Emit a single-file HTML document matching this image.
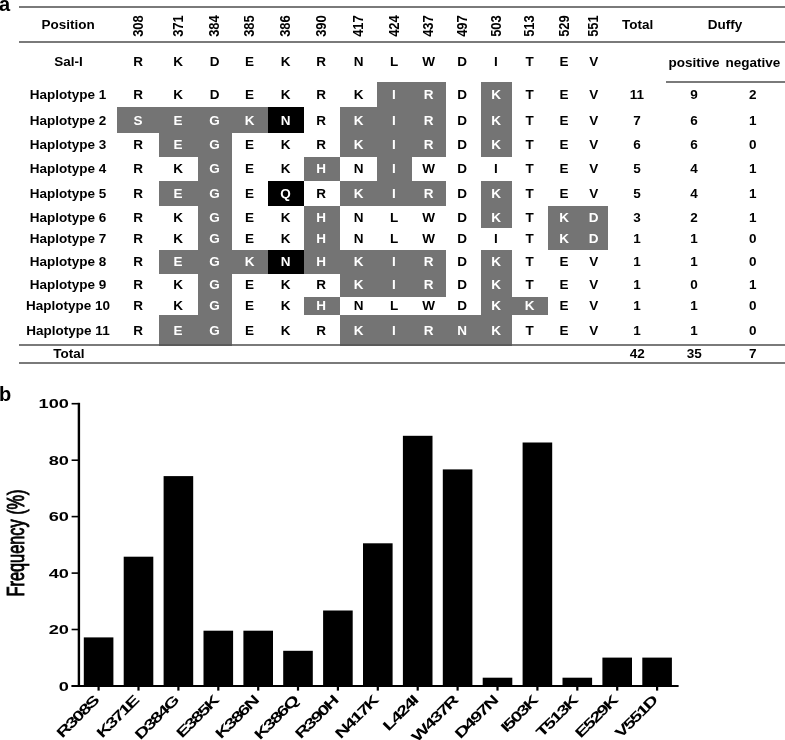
<!DOCTYPE html>
<html><head><meta charset="utf-8"><title>Figure</title>
<style>
html,body{margin:0;padding:0;background:#fff;}
body{width:785px;height:740px;position:relative;overflow:hidden;font-family:"Liberation Sans",Arial,sans-serif;font-weight:bold;color:#000;}
.t{position:absolute;font-size:13.5px;line-height:16px;height:16px;white-space:nowrap;text-align:center;}
.w{color:#fff;}
.g{position:absolute;background:#747474;}
.k{position:absolute;background:#000;}
.ln{position:absolute;background:#7a7a7a;height:2px;}
.r{position:absolute;font-size:14px;line-height:14px;height:14px;width:30px;text-align:center;transform:rotate(-90deg) scaleX(0.93);transform-origin:50% 50%;}
.pl{position:absolute;left:0;font-size:20px;line-height:22px;}
svg{position:absolute;left:0;top:0;}
svg text{font-family:"Liberation Sans",Arial,sans-serif;}
</style></head><body>
<div class="pl" style="top:-7px;left:-1px">a</div>
<div class="ln" style="left:19.3px;top:6px;width:766px"></div>
<div class="ln" style="left:19.3px;top:41px;width:766px"></div>
<div class="ln" style="left:666px;top:81px;width:119px"></div>
<div class="ln" style="left:19.3px;top:343.5px;width:766px"></div>
<div class="ln" style="left:19.3px;top:361.5px;width:766px"></div>
<div class="t " style="left:18.0px;top:17.3px;width:100px">Position</div>
<div class="r" style="left:122.5px;top:18.7px">308</div>
<div class="r" style="left:162.5px;top:18.7px">371</div>
<div class="r" style="left:199.0px;top:18.7px">384</div>
<div class="r" style="left:234.0px;top:18.7px">385</div>
<div class="r" style="left:270.0px;top:18.7px">386</div>
<div class="r" style="left:305.5px;top:18.7px">390</div>
<div class="r" style="left:343.0px;top:18.7px">417</div>
<div class="r" style="left:378.5px;top:18.7px">424</div>
<div class="r" style="left:413.0px;top:18.7px">437</div>
<div class="r" style="left:446.5px;top:18.7px">497</div>
<div class="r" style="left:480.5px;top:18.7px">503</div>
<div class="r" style="left:514.1px;top:18.7px">513</div>
<div class="r" style="left:548.5px;top:18.7px">529</div>
<div class="r" style="left:578.2px;top:18.7px">551</div>
<div class="t " style="left:607.7px;top:17.3px;width:60px">Total</div>
<div class="t " style="left:695.0px;top:17.3px;width:60px">Duffy</div>
<div class="t " style="left:18.5px;top:53.9px;width:100px">Sal-I</div>
<div class="t " style="left:118.0px;top:53.9px;width:40px">R</div>
<div class="t " style="left:158.0px;top:53.9px;width:40px">K</div>
<div class="t " style="left:194.5px;top:53.9px;width:40px">D</div>
<div class="t " style="left:229.5px;top:53.9px;width:40px">E</div>
<div class="t " style="left:265.5px;top:53.9px;width:40px">K</div>
<div class="t " style="left:301.0px;top:53.9px;width:40px">R</div>
<div class="t " style="left:338.5px;top:53.9px;width:40px">N</div>
<div class="t " style="left:374.0px;top:53.9px;width:40px">L</div>
<div class="t " style="left:408.5px;top:53.9px;width:40px">W</div>
<div class="t " style="left:442.0px;top:53.9px;width:40px">D</div>
<div class="t " style="left:476.0px;top:53.9px;width:40px">I</div>
<div class="t " style="left:509.6px;top:53.9px;width:40px">T</div>
<div class="t " style="left:544.0px;top:53.9px;width:40px">E</div>
<div class="t " style="left:573.7px;top:53.9px;width:40px">V</div>
<div class="t " style="left:659.0px;top:54.5px;width:70px">positive</div>
<div class="t " style="left:717.8px;top:54.5px;width:70px">negative</div>
<div class="g" style="left:377.0px;top:82.0px;width:69.0px;height:25.4px"></div>
<div class="g" style="left:481.0px;top:82.0px;width:30.5px;height:25.4px"></div>
<div class="g" style="left:117.0px;top:107.4px;width:151.0px;height:25.6px"></div>
<div class="k" style="left:268.0px;top:107.4px;width:35.5px;height:25.6px"></div>
<div class="g" style="left:340.0px;top:107.4px;width:106.0px;height:25.6px"></div>
<div class="g" style="left:481.0px;top:107.4px;width:30.5px;height:25.6px"></div>
<div class="g" style="left:159.0px;top:133.0px;width:72.5px;height:24.0px"></div>
<div class="g" style="left:340.0px;top:133.0px;width:106.0px;height:24.0px"></div>
<div class="g" style="left:481.0px;top:133.0px;width:30.5px;height:24.0px"></div>
<div class="g" style="left:197.5px;top:157.0px;width:34.0px;height:24.0px"></div>
<div class="g" style="left:303.5px;top:157.0px;width:36.5px;height:24.0px"></div>
<div class="g" style="left:377.0px;top:157.0px;width:34.5px;height:24.0px"></div>
<div class="g" style="left:159.0px;top:181.0px;width:72.5px;height:25.0px"></div>
<div class="k" style="left:268.0px;top:181.0px;width:35.5px;height:25.0px"></div>
<div class="g" style="left:340.0px;top:181.0px;width:106.0px;height:25.0px"></div>
<div class="g" style="left:481.0px;top:181.0px;width:30.5px;height:25.0px"></div>
<div class="g" style="left:197.5px;top:206.0px;width:34.0px;height:21.5px"></div>
<div class="g" style="left:303.5px;top:206.0px;width:36.5px;height:21.5px"></div>
<div class="g" style="left:481.0px;top:206.0px;width:30.5px;height:21.5px"></div>
<div class="g" style="left:548.0px;top:206.0px;width:60.0px;height:21.5px"></div>
<div class="g" style="left:197.5px;top:227.5px;width:34.0px;height:22.0px"></div>
<div class="g" style="left:303.5px;top:227.5px;width:36.5px;height:22.0px"></div>
<div class="g" style="left:548.0px;top:227.5px;width:60.0px;height:22.0px"></div>
<div class="g" style="left:159.0px;top:249.5px;width:109.0px;height:24.2px"></div>
<div class="k" style="left:268.0px;top:249.5px;width:35.5px;height:24.2px"></div>
<div class="g" style="left:303.5px;top:249.5px;width:142.5px;height:24.2px"></div>
<div class="g" style="left:481.0px;top:249.5px;width:30.5px;height:24.2px"></div>
<div class="g" style="left:197.5px;top:273.7px;width:34.0px;height:23.3px"></div>
<div class="g" style="left:340.0px;top:273.7px;width:106.0px;height:23.3px"></div>
<div class="g" style="left:481.0px;top:273.7px;width:30.5px;height:23.3px"></div>
<div class="g" style="left:197.5px;top:297.0px;width:34.0px;height:17.5px"></div>
<div class="g" style="left:303.5px;top:297.0px;width:36.5px;height:17.5px"></div>
<div class="g" style="left:481.0px;top:297.0px;width:67.0px;height:17.5px"></div>
<div class="g" style="left:159.0px;top:314.5px;width:72.5px;height:30.5px"></div>
<div class="g" style="left:340.0px;top:314.5px;width:171.5px;height:30.5px"></div>
<div class="ln" style="left:159px;top:343.7px;width:72.5px;background:#5a5a5a"></div>
<div class="ln" style="left:340px;top:343.7px;width:171.5px;background:#5a5a5a"></div>
<div class="t " style="left:13.0px;top:86.6px;width:110px">Haplotype 1</div>
<div class="t " style="left:118.0px;top:86.6px;width:40px">R</div>
<div class="t " style="left:158.0px;top:86.6px;width:40px">K</div>
<div class="t " style="left:194.5px;top:86.6px;width:40px">D</div>
<div class="t " style="left:229.5px;top:86.6px;width:40px">E</div>
<div class="t " style="left:265.5px;top:86.6px;width:40px">K</div>
<div class="t " style="left:301.0px;top:86.6px;width:40px">R</div>
<div class="t " style="left:338.5px;top:86.6px;width:40px">K</div>
<div class="t w" style="left:374.0px;top:86.6px;width:40px">I</div>
<div class="t w" style="left:408.5px;top:86.6px;width:40px">R</div>
<div class="t " style="left:442.0px;top:86.6px;width:40px">D</div>
<div class="t w" style="left:476.0px;top:86.6px;width:40px">K</div>
<div class="t " style="left:509.6px;top:86.6px;width:40px">T</div>
<div class="t " style="left:544.0px;top:86.6px;width:40px">E</div>
<div class="t " style="left:573.7px;top:86.6px;width:40px">V</div>
<div class="t " style="left:617.0px;top:86.6px;width:40px">11</div>
<div class="t " style="left:674.0px;top:86.6px;width:40px">9</div>
<div class="t " style="left:732.8px;top:86.6px;width:40px">2</div>
<div class="t " style="left:13.0px;top:113.4px;width:110px">Haplotype 2</div>
<div class="t w" style="left:118.0px;top:113.4px;width:40px">S</div>
<div class="t w" style="left:158.0px;top:113.4px;width:40px">E</div>
<div class="t w" style="left:194.5px;top:113.4px;width:40px">G</div>
<div class="t w" style="left:229.5px;top:113.4px;width:40px">K</div>
<div class="t w" style="left:265.5px;top:113.4px;width:40px">N</div>
<div class="t " style="left:301.0px;top:113.4px;width:40px">R</div>
<div class="t w" style="left:338.5px;top:113.4px;width:40px">K</div>
<div class="t w" style="left:374.0px;top:113.4px;width:40px">I</div>
<div class="t w" style="left:408.5px;top:113.4px;width:40px">R</div>
<div class="t " style="left:442.0px;top:113.4px;width:40px">D</div>
<div class="t w" style="left:476.0px;top:113.4px;width:40px">K</div>
<div class="t " style="left:509.6px;top:113.4px;width:40px">T</div>
<div class="t " style="left:544.0px;top:113.4px;width:40px">E</div>
<div class="t " style="left:573.7px;top:113.4px;width:40px">V</div>
<div class="t " style="left:617.0px;top:113.4px;width:40px">7</div>
<div class="t " style="left:674.0px;top:113.4px;width:40px">6</div>
<div class="t " style="left:732.8px;top:113.4px;width:40px">1</div>
<div class="t " style="left:13.0px;top:137.4px;width:110px">Haplotype 3</div>
<div class="t " style="left:118.0px;top:137.4px;width:40px">R</div>
<div class="t w" style="left:158.0px;top:137.4px;width:40px">E</div>
<div class="t w" style="left:194.5px;top:137.4px;width:40px">G</div>
<div class="t " style="left:229.5px;top:137.4px;width:40px">E</div>
<div class="t " style="left:265.5px;top:137.4px;width:40px">K</div>
<div class="t " style="left:301.0px;top:137.4px;width:40px">R</div>
<div class="t w" style="left:338.5px;top:137.4px;width:40px">K</div>
<div class="t w" style="left:374.0px;top:137.4px;width:40px">I</div>
<div class="t w" style="left:408.5px;top:137.4px;width:40px">R</div>
<div class="t " style="left:442.0px;top:137.4px;width:40px">D</div>
<div class="t w" style="left:476.0px;top:137.4px;width:40px">K</div>
<div class="t " style="left:509.6px;top:137.4px;width:40px">T</div>
<div class="t " style="left:544.0px;top:137.4px;width:40px">E</div>
<div class="t " style="left:573.7px;top:137.4px;width:40px">V</div>
<div class="t " style="left:617.0px;top:137.4px;width:40px">6</div>
<div class="t " style="left:674.0px;top:137.4px;width:40px">6</div>
<div class="t " style="left:732.8px;top:137.4px;width:40px">0</div>
<div class="t " style="left:13.0px;top:161.0px;width:110px">Haplotype 4</div>
<div class="t " style="left:118.0px;top:161.0px;width:40px">R</div>
<div class="t " style="left:158.0px;top:161.0px;width:40px">K</div>
<div class="t w" style="left:194.5px;top:161.0px;width:40px">G</div>
<div class="t " style="left:229.5px;top:161.0px;width:40px">E</div>
<div class="t " style="left:265.5px;top:161.0px;width:40px">K</div>
<div class="t w" style="left:301.0px;top:161.0px;width:40px">H</div>
<div class="t " style="left:338.5px;top:161.0px;width:40px">N</div>
<div class="t w" style="left:374.0px;top:161.0px;width:40px">I</div>
<div class="t " style="left:408.5px;top:161.0px;width:40px">W</div>
<div class="t " style="left:442.0px;top:161.0px;width:40px">D</div>
<div class="t " style="left:476.0px;top:161.0px;width:40px">I</div>
<div class="t " style="left:509.6px;top:161.0px;width:40px">T</div>
<div class="t " style="left:544.0px;top:161.0px;width:40px">E</div>
<div class="t " style="left:573.7px;top:161.0px;width:40px">V</div>
<div class="t " style="left:617.0px;top:161.0px;width:40px">5</div>
<div class="t " style="left:674.0px;top:161.0px;width:40px">4</div>
<div class="t " style="left:732.8px;top:161.0px;width:40px">1</div>
<div class="t " style="left:13.0px;top:185.5px;width:110px">Haplotype 5</div>
<div class="t " style="left:118.0px;top:185.5px;width:40px">R</div>
<div class="t w" style="left:158.0px;top:185.5px;width:40px">E</div>
<div class="t w" style="left:194.5px;top:185.5px;width:40px">G</div>
<div class="t " style="left:229.5px;top:185.5px;width:40px">E</div>
<div class="t w" style="left:265.5px;top:185.5px;width:40px">Q</div>
<div class="t " style="left:301.0px;top:185.5px;width:40px">R</div>
<div class="t w" style="left:338.5px;top:185.5px;width:40px">K</div>
<div class="t w" style="left:374.0px;top:185.5px;width:40px">I</div>
<div class="t w" style="left:408.5px;top:185.5px;width:40px">R</div>
<div class="t " style="left:442.0px;top:185.5px;width:40px">D</div>
<div class="t w" style="left:476.0px;top:185.5px;width:40px">K</div>
<div class="t " style="left:509.6px;top:185.5px;width:40px">T</div>
<div class="t " style="left:544.0px;top:185.5px;width:40px">E</div>
<div class="t " style="left:573.7px;top:185.5px;width:40px">V</div>
<div class="t " style="left:617.0px;top:185.5px;width:40px">5</div>
<div class="t " style="left:674.0px;top:185.5px;width:40px">4</div>
<div class="t " style="left:732.8px;top:185.5px;width:40px">1</div>
<div class="t " style="left:13.0px;top:209.9px;width:110px">Haplotype 6</div>
<div class="t " style="left:118.0px;top:209.9px;width:40px">R</div>
<div class="t " style="left:158.0px;top:209.9px;width:40px">K</div>
<div class="t w" style="left:194.5px;top:209.9px;width:40px">G</div>
<div class="t " style="left:229.5px;top:209.9px;width:40px">E</div>
<div class="t " style="left:265.5px;top:209.9px;width:40px">K</div>
<div class="t w" style="left:301.0px;top:209.9px;width:40px">H</div>
<div class="t " style="left:338.5px;top:209.9px;width:40px">N</div>
<div class="t " style="left:374.0px;top:209.9px;width:40px">L</div>
<div class="t " style="left:408.5px;top:209.9px;width:40px">W</div>
<div class="t " style="left:442.0px;top:209.9px;width:40px">D</div>
<div class="t w" style="left:476.0px;top:209.9px;width:40px">K</div>
<div class="t " style="left:509.6px;top:209.9px;width:40px">T</div>
<div class="t w" style="left:544.0px;top:209.9px;width:40px">K</div>
<div class="t w" style="left:573.7px;top:209.9px;width:40px">D</div>
<div class="t " style="left:617.0px;top:209.9px;width:40px">3</div>
<div class="t " style="left:674.0px;top:209.9px;width:40px">2</div>
<div class="t " style="left:732.8px;top:209.9px;width:40px">1</div>
<div class="t " style="left:13.0px;top:230.8px;width:110px">Haplotype 7</div>
<div class="t " style="left:118.0px;top:230.8px;width:40px">R</div>
<div class="t " style="left:158.0px;top:230.8px;width:40px">K</div>
<div class="t w" style="left:194.5px;top:230.8px;width:40px">G</div>
<div class="t " style="left:229.5px;top:230.8px;width:40px">E</div>
<div class="t " style="left:265.5px;top:230.8px;width:40px">K</div>
<div class="t w" style="left:301.0px;top:230.8px;width:40px">H</div>
<div class="t " style="left:338.5px;top:230.8px;width:40px">N</div>
<div class="t " style="left:374.0px;top:230.8px;width:40px">L</div>
<div class="t " style="left:408.5px;top:230.8px;width:40px">W</div>
<div class="t " style="left:442.0px;top:230.8px;width:40px">D</div>
<div class="t " style="left:476.0px;top:230.8px;width:40px">I</div>
<div class="t " style="left:509.6px;top:230.8px;width:40px">T</div>
<div class="t w" style="left:544.0px;top:230.8px;width:40px">K</div>
<div class="t w" style="left:573.7px;top:230.8px;width:40px">D</div>
<div class="t " style="left:617.0px;top:230.8px;width:40px">1</div>
<div class="t " style="left:674.0px;top:230.8px;width:40px">1</div>
<div class="t " style="left:732.8px;top:230.8px;width:40px">0</div>
<div class="t " style="left:13.0px;top:254.0px;width:110px">Haplotype 8</div>
<div class="t " style="left:118.0px;top:254.0px;width:40px">R</div>
<div class="t w" style="left:158.0px;top:254.0px;width:40px">E</div>
<div class="t w" style="left:194.5px;top:254.0px;width:40px">G</div>
<div class="t w" style="left:229.5px;top:254.0px;width:40px">K</div>
<div class="t w" style="left:265.5px;top:254.0px;width:40px">N</div>
<div class="t w" style="left:301.0px;top:254.0px;width:40px">H</div>
<div class="t w" style="left:338.5px;top:254.0px;width:40px">K</div>
<div class="t w" style="left:374.0px;top:254.0px;width:40px">I</div>
<div class="t w" style="left:408.5px;top:254.0px;width:40px">R</div>
<div class="t " style="left:442.0px;top:254.0px;width:40px">D</div>
<div class="t w" style="left:476.0px;top:254.0px;width:40px">K</div>
<div class="t " style="left:509.6px;top:254.0px;width:40px">T</div>
<div class="t " style="left:544.0px;top:254.0px;width:40px">E</div>
<div class="t " style="left:573.7px;top:254.0px;width:40px">V</div>
<div class="t " style="left:617.0px;top:254.0px;width:40px">1</div>
<div class="t " style="left:674.0px;top:254.0px;width:40px">1</div>
<div class="t " style="left:732.8px;top:254.0px;width:40px">0</div>
<div class="t " style="left:13.0px;top:277.0px;width:110px">Haplotype 9</div>
<div class="t " style="left:118.0px;top:277.0px;width:40px">R</div>
<div class="t " style="left:158.0px;top:277.0px;width:40px">K</div>
<div class="t w" style="left:194.5px;top:277.0px;width:40px">G</div>
<div class="t " style="left:229.5px;top:277.0px;width:40px">E</div>
<div class="t " style="left:265.5px;top:277.0px;width:40px">K</div>
<div class="t " style="left:301.0px;top:277.0px;width:40px">R</div>
<div class="t w" style="left:338.5px;top:277.0px;width:40px">K</div>
<div class="t w" style="left:374.0px;top:277.0px;width:40px">I</div>
<div class="t w" style="left:408.5px;top:277.0px;width:40px">R</div>
<div class="t " style="left:442.0px;top:277.0px;width:40px">D</div>
<div class="t w" style="left:476.0px;top:277.0px;width:40px">K</div>
<div class="t " style="left:509.6px;top:277.0px;width:40px">T</div>
<div class="t " style="left:544.0px;top:277.0px;width:40px">E</div>
<div class="t " style="left:573.7px;top:277.0px;width:40px">V</div>
<div class="t " style="left:617.0px;top:277.0px;width:40px">1</div>
<div class="t " style="left:674.0px;top:277.0px;width:40px">0</div>
<div class="t " style="left:732.8px;top:277.0px;width:40px">1</div>
<div class="t " style="left:13.0px;top:298.2px;width:110px">Haplotype 10</div>
<div class="t " style="left:118.0px;top:298.2px;width:40px">R</div>
<div class="t " style="left:158.0px;top:298.2px;width:40px">K</div>
<div class="t w" style="left:194.5px;top:298.2px;width:40px">G</div>
<div class="t " style="left:229.5px;top:298.2px;width:40px">E</div>
<div class="t " style="left:265.5px;top:298.2px;width:40px">K</div>
<div class="t w" style="left:301.0px;top:298.2px;width:40px">H</div>
<div class="t " style="left:338.5px;top:298.2px;width:40px">N</div>
<div class="t " style="left:374.0px;top:298.2px;width:40px">L</div>
<div class="t " style="left:408.5px;top:298.2px;width:40px">W</div>
<div class="t " style="left:442.0px;top:298.2px;width:40px">D</div>
<div class="t w" style="left:476.0px;top:298.2px;width:40px">K</div>
<div class="t w" style="left:509.6px;top:298.2px;width:40px">K</div>
<div class="t " style="left:544.0px;top:298.2px;width:40px">E</div>
<div class="t " style="left:573.7px;top:298.2px;width:40px">V</div>
<div class="t " style="left:617.0px;top:298.2px;width:40px">1</div>
<div class="t " style="left:674.0px;top:298.2px;width:40px">1</div>
<div class="t " style="left:732.8px;top:298.2px;width:40px">0</div>
<div class="t " style="left:13.0px;top:322.7px;width:110px">Haplotype 11</div>
<div class="t " style="left:118.0px;top:322.7px;width:40px">R</div>
<div class="t w" style="left:158.0px;top:322.7px;width:40px">E</div>
<div class="t w" style="left:194.5px;top:322.7px;width:40px">G</div>
<div class="t " style="left:229.5px;top:322.7px;width:40px">E</div>
<div class="t " style="left:265.5px;top:322.7px;width:40px">K</div>
<div class="t " style="left:301.0px;top:322.7px;width:40px">R</div>
<div class="t w" style="left:338.5px;top:322.7px;width:40px">K</div>
<div class="t w" style="left:374.0px;top:322.7px;width:40px">I</div>
<div class="t w" style="left:408.5px;top:322.7px;width:40px">R</div>
<div class="t w" style="left:442.0px;top:322.7px;width:40px">N</div>
<div class="t w" style="left:476.0px;top:322.7px;width:40px">K</div>
<div class="t " style="left:509.6px;top:322.7px;width:40px">T</div>
<div class="t " style="left:544.0px;top:322.7px;width:40px">E</div>
<div class="t " style="left:573.7px;top:322.7px;width:40px">V</div>
<div class="t " style="left:617.0px;top:322.7px;width:40px">1</div>
<div class="t " style="left:674.0px;top:322.7px;width:40px">1</div>
<div class="t " style="left:732.8px;top:322.7px;width:40px">0</div>
<div class="t " style="left:18.8px;top:345.8px;width:100px">Total</div>
<div class="t " style="left:617.2px;top:345.8px;width:40px">42</div>
<div class="t " style="left:674.3px;top:345.8px;width:40px">35</div>
<div class="t " style="left:732.7px;top:345.8px;width:40px">7</div>
<div class="pl" style="top:383px;left:-1px">b</div>
<svg width="785" height="740" viewBox="0 0 785 740">
<rect x="77.7" y="402.8" width="2.4" height="284" fill="#000"/>
<rect x="71.6" y="685" width="607" height="2" fill="#000"/>
<rect x="71.6" y="685.2" width="7" height="1.6" fill="#000"/>
<text transform="translate(68.9,690.5) scale(1.48,1)" text-anchor="end" font-size="12.3" font-weight="bold">0</text>
<rect x="71.6" y="628.7" width="7" height="1.6" fill="#000"/>
<text transform="translate(68.9,634.0) scale(1.48,1)" text-anchor="end" font-size="12.3" font-weight="bold">20</text>
<rect x="71.6" y="572.3" width="7" height="1.6" fill="#000"/>
<text transform="translate(68.9,577.6) scale(1.48,1)" text-anchor="end" font-size="12.3" font-weight="bold">40</text>
<rect x="71.6" y="515.8" width="7" height="1.6" fill="#000"/>
<text transform="translate(68.9,521.1) scale(1.48,1)" text-anchor="end" font-size="12.3" font-weight="bold">60</text>
<rect x="71.6" y="459.4" width="7" height="1.6" fill="#000"/>
<text transform="translate(68.9,464.7) scale(1.48,1)" text-anchor="end" font-size="12.3" font-weight="bold">80</text>
<rect x="71.6" y="402.9" width="7" height="1.6" fill="#000"/>
<text transform="translate(68.9,408.2) scale(1.48,1)" text-anchor="end" font-size="12.3" font-weight="bold">100</text>
<rect x="83.8" y="637.4" width="29.6" height="48.6" fill="#000"/>
<rect x="97.5" y="686" width="2.2" height="4.6" fill="#000"/>
<text transform="translate(99.3,701.8) rotate(-45) scale(1.42,1)" text-anchor="end" font-size="14.2" font-weight="bold" letter-spacing="-1.3">R308S</text>
<rect x="123.7" y="556.7" width="29.6" height="129.3" fill="#000"/>
<rect x="137.4" y="686" width="2.2" height="4.6" fill="#000"/>
<text transform="translate(139.2,701.8) rotate(-45) scale(1.42,1)" text-anchor="end" font-size="14.2" font-weight="bold" letter-spacing="-1.3">K371E</text>
<rect x="163.6" y="476.1" width="29.6" height="209.9" fill="#000"/>
<rect x="177.3" y="686" width="2.2" height="4.6" fill="#000"/>
<text transform="translate(179.1,701.8) rotate(-45) scale(1.42,1)" text-anchor="end" font-size="14.2" font-weight="bold" letter-spacing="-1.3">D384G</text>
<rect x="203.5" y="630.7" width="29.6" height="55.3" fill="#000"/>
<rect x="217.2" y="686" width="2.2" height="4.6" fill="#000"/>
<text transform="translate(219.0,701.8) rotate(-45) scale(1.42,1)" text-anchor="end" font-size="14.2" font-weight="bold" letter-spacing="-1.3">E385K</text>
<rect x="243.4" y="630.7" width="29.6" height="55.3" fill="#000"/>
<rect x="257.1" y="686" width="2.2" height="4.6" fill="#000"/>
<text transform="translate(258.9,701.8) rotate(-45) scale(1.42,1)" text-anchor="end" font-size="14.2" font-weight="bold" letter-spacing="-1.3">K386N</text>
<rect x="283.2" y="650.8" width="29.6" height="35.2" fill="#000"/>
<rect x="296.9" y="686" width="2.2" height="4.6" fill="#000"/>
<text transform="translate(298.7,701.8) rotate(-45) scale(1.42,1)" text-anchor="end" font-size="14.2" font-weight="bold" letter-spacing="-1.3">K386Q</text>
<rect x="323.1" y="610.5" width="29.6" height="75.5" fill="#000"/>
<rect x="336.8" y="686" width="2.2" height="4.6" fill="#000"/>
<text transform="translate(338.6,701.8) rotate(-45) scale(1.42,1)" text-anchor="end" font-size="14.2" font-weight="bold" letter-spacing="-1.3">R390H</text>
<rect x="363.0" y="543.3" width="29.6" height="142.7" fill="#000"/>
<rect x="376.7" y="686" width="2.2" height="4.6" fill="#000"/>
<text transform="translate(378.5,701.8) rotate(-45) scale(1.42,1)" text-anchor="end" font-size="14.2" font-weight="bold" letter-spacing="-1.3">N417K</text>
<rect x="402.9" y="435.8" width="29.6" height="250.2" fill="#000"/>
<rect x="416.6" y="686" width="2.2" height="4.6" fill="#000"/>
<text transform="translate(418.4,701.8) rotate(-45) scale(1.42,1)" text-anchor="end" font-size="14.2" font-weight="bold" letter-spacing="-1.3">L424I</text>
<rect x="442.8" y="469.4" width="29.6" height="216.6" fill="#000"/>
<rect x="456.5" y="686" width="2.2" height="4.6" fill="#000"/>
<text transform="translate(458.3,701.8) rotate(-45) scale(1.42,1)" text-anchor="end" font-size="14.2" font-weight="bold" letter-spacing="-1.3">W437R</text>
<rect x="482.7" y="677.7" width="29.6" height="8.3" fill="#000"/>
<rect x="496.4" y="686" width="2.2" height="4.6" fill="#000"/>
<text transform="translate(498.2,701.8) rotate(-45) scale(1.42,1)" text-anchor="end" font-size="14.2" font-weight="bold" letter-spacing="-1.3">D497N</text>
<rect x="522.6" y="442.5" width="29.6" height="243.5" fill="#000"/>
<rect x="536.3" y="686" width="2.2" height="4.6" fill="#000"/>
<text transform="translate(538.1,701.8) rotate(-45) scale(1.42,1)" text-anchor="end" font-size="14.2" font-weight="bold" letter-spacing="-1.3">I503K</text>
<rect x="562.5" y="677.7" width="29.6" height="8.3" fill="#000"/>
<rect x="576.2" y="686" width="2.2" height="4.6" fill="#000"/>
<text transform="translate(578.0,701.8) rotate(-45) scale(1.42,1)" text-anchor="end" font-size="14.2" font-weight="bold" letter-spacing="-1.3">T513K</text>
<rect x="602.4" y="657.6" width="29.6" height="28.4" fill="#000"/>
<rect x="616.1" y="686" width="2.2" height="4.6" fill="#000"/>
<text transform="translate(617.9,701.8) rotate(-45) scale(1.42,1)" text-anchor="end" font-size="14.2" font-weight="bold" letter-spacing="-1.3">E529K</text>
<rect x="642.3" y="657.6" width="29.6" height="28.4" fill="#000"/>
<rect x="656.0" y="686" width="2.2" height="4.6" fill="#000"/>
<text transform="translate(657.8,701.8) rotate(-45) scale(1.42,1)" text-anchor="end" font-size="14.2" font-weight="bold" letter-spacing="-1.3">V551D</text>
<text transform="translate(24.3,596.5) rotate(-90) scale(0.71,1)" font-size="23" font-weight="normal" stroke="#000" stroke-width="0.95">Frequency (%)</text>
</svg>
</body></html>
